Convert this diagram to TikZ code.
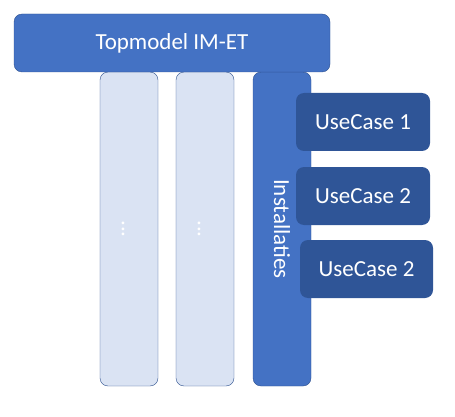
\documentclass[tikz,border=0pt]{standalone}
\usepackage{fontspec}
\setmainfont{Carlito}
\usepackage{tikz}

\definecolor{midblue}{HTML}{4472C4}
\definecolor{darkblue}{HTML}{2F5597}
\definecolor{edgeblue}{HTML}{2F528F}
\definecolor{paleblue}{HTML}{DAE3F3}

\begin{document}
\begin{tikzpicture}[
      x=1pt, y=-1pt,
      font=\fontsize{23}{27}\selectfont,
      topbox/.style={rectangle, draw=edgeblue, fill=midblue, text=white, rounded corners=8pt, minimum width=316pt, minimum height=58pt},
      column/.style={rectangle, draw=edgeblue, fill=paleblue, rounded corners=8pt, minimum width=58pt, minimum height=314pt},
      instcol/.style={rectangle, draw=edgeblue, fill=midblue, rounded corners=8pt, minimum width=58pt, minimum height=314pt},
      usecase/.style={rectangle, fill=darkblue, text=white, rounded corners=8pt, minimum width=134pt, minimum height=58pt},
      vdots/.style={text=white, rotate=-90}
    ]
      \useasboundingbox (0,0) rectangle (455,417);

      % Columns under the top model
      \node[column] (col_a) at (129, 229) {};
      \node[vdots] (dots_a) at (123, 229) {...};
      \node[column] (col_b) at (205, 229) {};
      \node[vdots] (dots_b) at (199, 229) {...};
      \node[instcol] (installaties) at (282, 229) {};
      \node[text=white, rotate=-90] (inst_label) at (installaties.center) {Installaties};

      % Top model
      \node[topbox] (topmodel) at (172, 43) {Topmodel IM-ET};

      % Use cases
      \node[usecase] (uc_one) at (363, 122) {UseCase 1};
      \node[usecase] (uc_two) at (363, 196) {UseCase 2};
      \node[usecase, minimum width=133pt] (uc_three) at (366.5, 269) {UseCase 2};
    \end{tikzpicture}
\end{document}
